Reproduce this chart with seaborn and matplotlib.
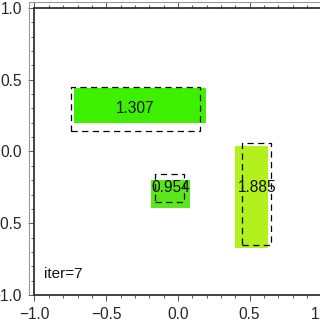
import matplotlib
matplotlib.use("Agg")
import matplotlib.pyplot as plt
import seaborn as sns
from matplotlib.patches import Rectangle
from matplotlib.lines import Line2D
import numpy as np

sns.set_style("white")
plt.rcParams['font.family'] = ['Liberation Sans', 'DejaVu Sans']

# filled rectangles: x0, x1, y0, y1
fill_x0 = [-0.726, -0.184, 0.398]
fill_x1 = [0.198, 0.084, 0.631]
fill_y0 = [0.197, -0.392, -0.670]
fill_y1 = [0.440, -0.201, 0.038]
fill_colors = ["#3cf000", "#5ae81a", "#b2f01e"]

# dashed rectangles
dash_x0 = [-0.742, -0.156, 0.449]
dash_x1 = [0.153, 0.042, 0.647]
dash_y0 = [0.143, -0.354, -0.652]
dash_y1 = [0.449, -0.155, 0.057]

# labels
label_text = ["1.307", "0.954", "1.885"]
label_x = [-0.295, -0.048, 0.556]
label_y = [0.296, -0.248, -0.248]

iter_text = "iter=7"
ticks = [-1.0, -0.5, 0.0, 0.5, 1.0]
tick_labels = ["\u22121.0", "\u22120.5", "0.0", "0.5", "1.0"]

fig = plt.figure(figsize=(3.2, 3.2), dpi=100)
ax = fig.add_axes([0.1078, 0.078, 0.896, 0.8975])

for x0, x1, y0, y1, c in zip(fill_x0, fill_x1, fill_y0, fill_y1, fill_colors):
    ax.add_patch(Rectangle((x0, y0), x1 - x0, y1 - y0, facecolor=c, edgecolor="none", zorder=1))
for x0, x1, y0, y1 in zip(dash_x0, dash_x1, dash_y0, dash_y1):
    ax.add_patch(Rectangle((x0, y0), x1 - x0, y1 - y0, facecolor="none", edgecolor="black",
                           linewidth=0.9, linestyle=(0, (5, 3.5)), zorder=2))
for t, x, y in zip(label_text, label_x, label_y):
    ax.text(x, y, t, ha="center", va="center", fontsize=11.2, color="#111111", zorder=3)

ax.text(-0.935, -0.856, iter_text, ha="left", va="center", fontsize=11, color="#111111")

ax.set_xlim(-1, 1)
ax.set_ylim(-1, 1)
ax.set_xticks(ticks)
ax.set_xticklabels(tick_labels)
ax.set_yticks(ticks)
ax.set_yticklabels(tick_labels)
ax.set_xticks(np.arange(-1, 1.001, 0.1), minor=True)
ax.set_yticks(np.arange(-1, 1.001, 0.1), minor=True)
ax.tick_params(which="both", direction="out", top=True, left=True, bottom=True, right=False,
               color="#555555", width=0.7)
ax.tick_params(which="major", length=4, labelsize=11.2)
ax.tick_params(which="minor", length=2.5)
ax.tick_params(axis="y", which="major", pad=5)
ax.tick_params(axis="x", which="major", pad=4.5)
ax.tick_params(axis="x", labeltop=False)
for s in ["left", "top", "bottom"]:
    ax.spines[s].set_color("#333333")
    ax.spines[s].set_linewidth(1.3)
ax.spines["right"].set_visible(False)

# outer grey frame lines
fig.add_artist(Line2D([29.3 / 320, 29.3 / 320], [1 - 1.5 / 320, 1 - 295 / 320],
                      transform=fig.transFigure, color="#999999", linewidth=0.8))
fig.add_artist(Line2D([29.3 / 320, 1.0], [1 - 1.5 / 320, 1 - 1.5 / 320],
                      transform=fig.transFigure, color="#999999", linewidth=0.8))

fig.savefig("out.png", dpi=100)
